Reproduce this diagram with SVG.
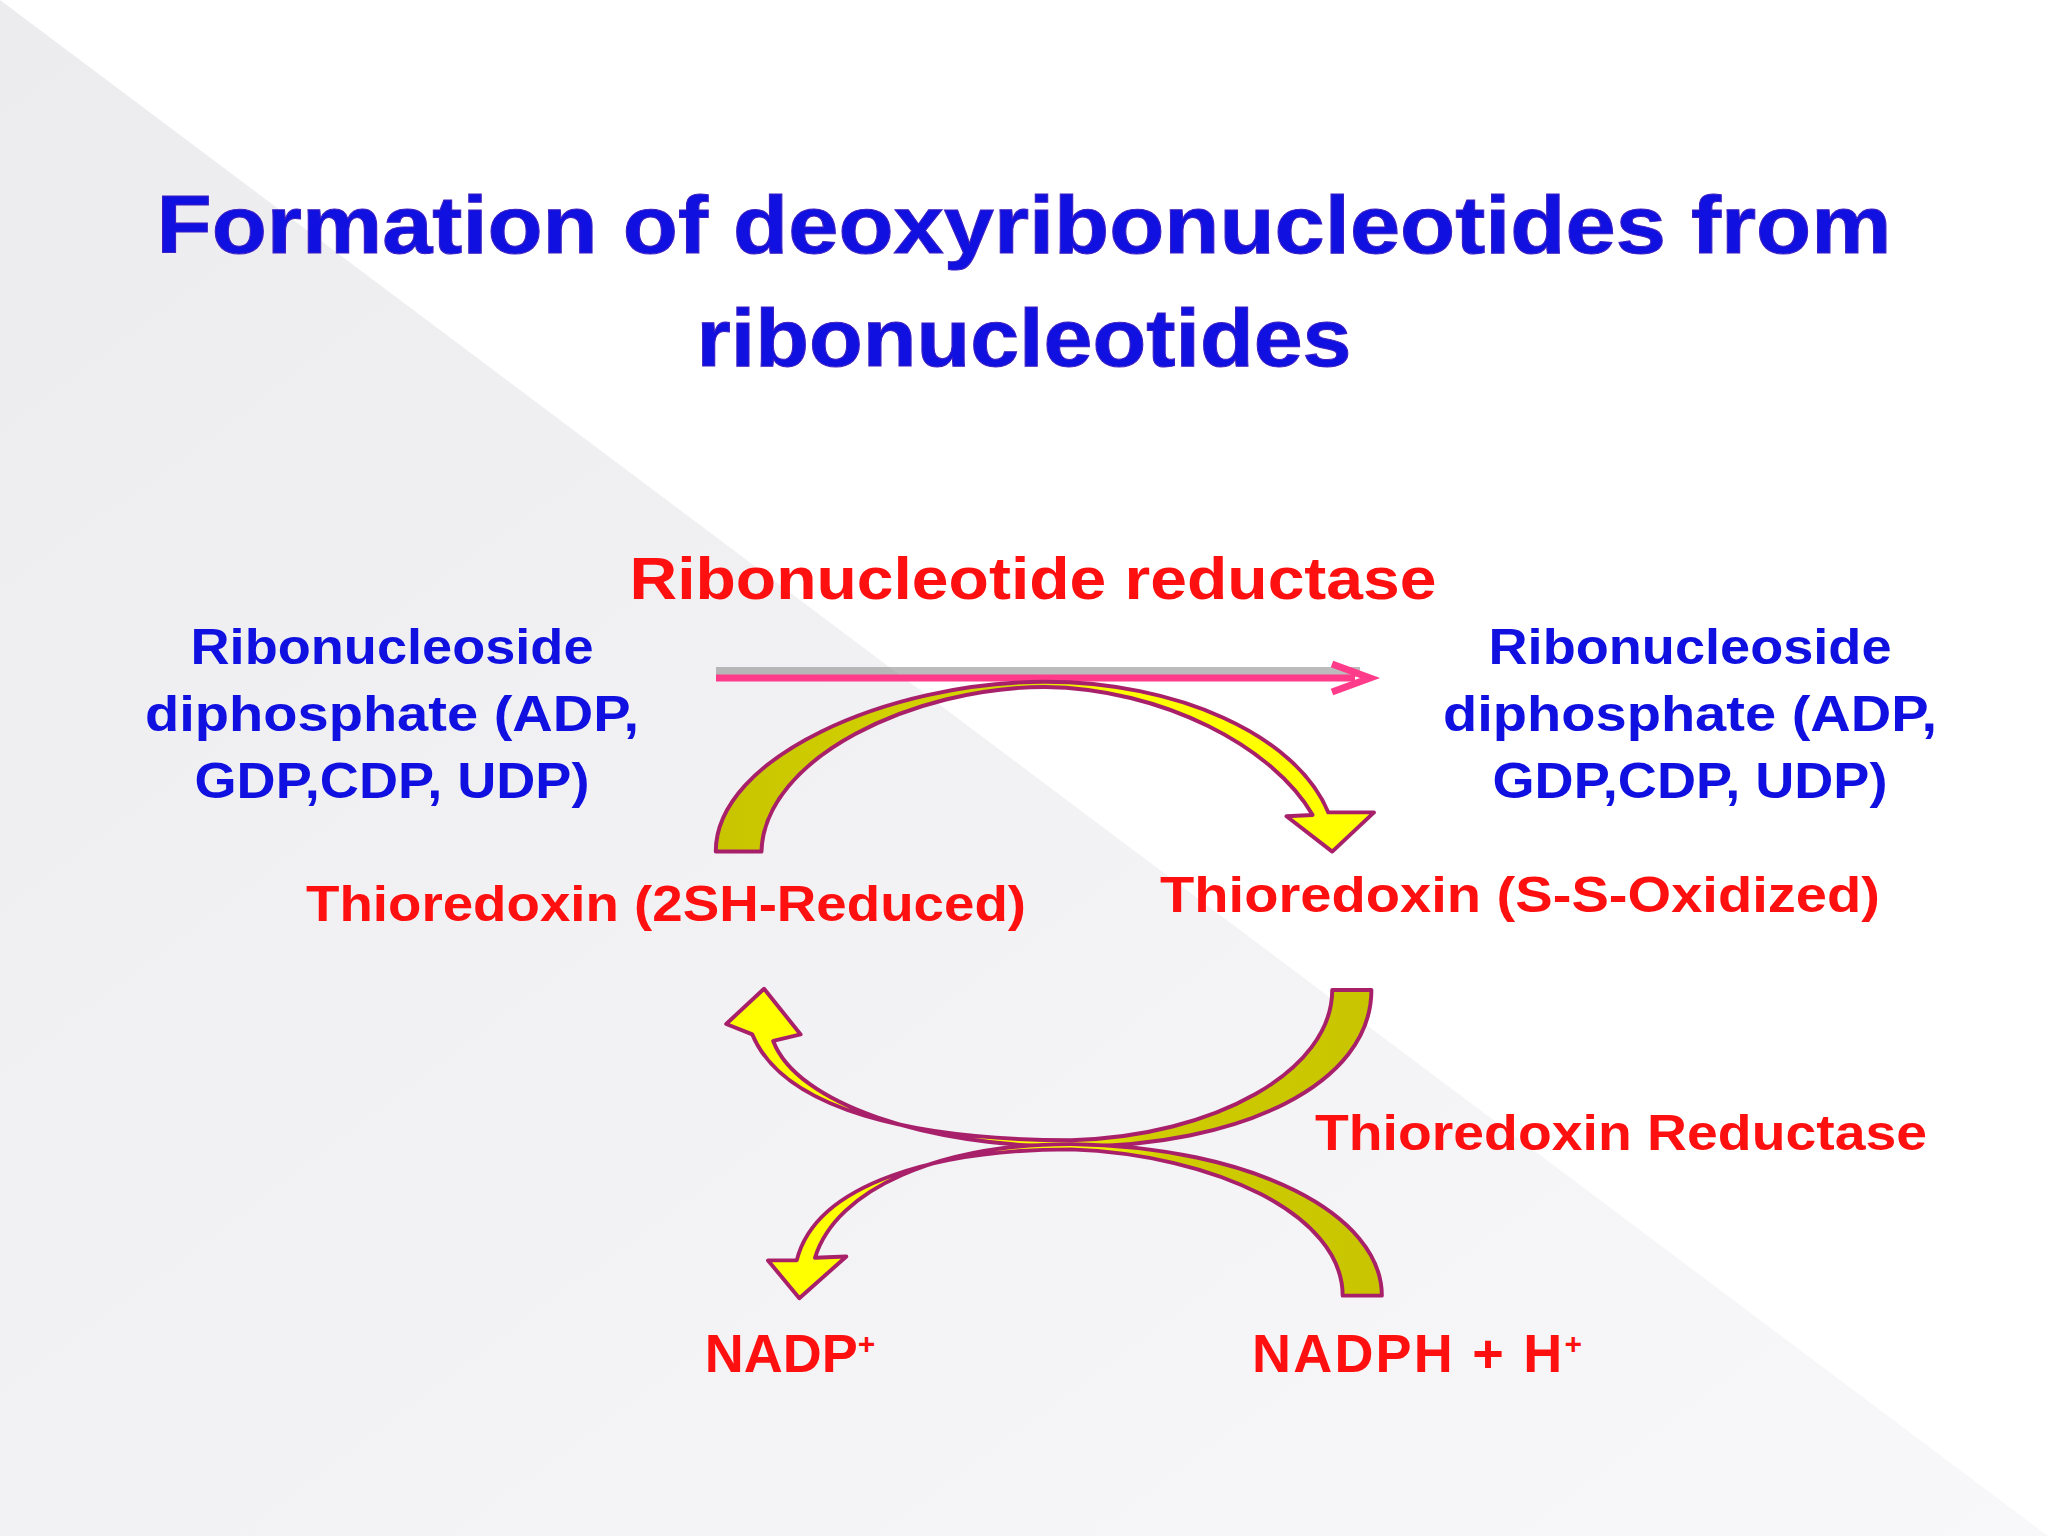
<svg xmlns="http://www.w3.org/2000/svg" width="2048" height="1536" viewBox="0 0 2048 1536">
<defs>
<linearGradient id="bg" x1="0" y1="0" x2="1" y2="1"><stop offset="0" stop-color="#ececef"/><stop offset="1" stop-color="#f8f8fa"/></linearGradient>
<linearGradient id="ay" x1="0" y1="0" x2="1" y2="0"><stop offset="0" stop-color="#c8c400"/><stop offset="0.45" stop-color="#d8d800"/><stop offset="0.6" stop-color="#ffff00"/><stop offset="1" stop-color="#ffff00"/></linearGradient>
<linearGradient id="by" x1="0" y1="0" x2="1" y2="0"><stop offset="0" stop-color="#ffff00"/><stop offset="0.5" stop-color="#ffff00"/><stop offset="0.65" stop-color="#d0cc00"/><stop offset="1" stop-color="#c8c400"/></linearGradient>
<style>
.t{font-family:"Liberation Sans",Arial,sans-serif;font-weight:bold;text-anchor:middle}
.blue{fill:#1010e0}
.red{fill:#ff1010}
.arr{stroke:#a8206a;stroke-width:3;stroke-linejoin:round}
</style>
</defs>
<rect width="2048" height="1536" fill="#ffffff"/>
<polygon points="0,0 2048,1536 0,1536" fill="url(#bg)"/>
<g id="title" class="t blue">
<text x="1024" y="253" font-size="82" textLength="1735" lengthAdjust="spacingAndGlyphs" stroke="#4020c0" stroke-width="1">Formation of deoxyribonucleotides from</text>
<text x="1024" y="366" font-size="82" textLength="655" lengthAdjust="spacingAndGlyphs" stroke="#4020c0" stroke-width="1">ribonucleotides</text>
</g>
<g id="enzyme1" class="t red"><text x="1033" y="599" font-size="60" textLength="807" lengthAdjust="spacingAndGlyphs">Ribonucleotide reductase</text></g>
<g id="left" class="t blue" font-size="50">
<text x="392" y="664" textLength="403" lengthAdjust="spacingAndGlyphs">Ribonucleoside</text>
<text x="392" y="731" textLength="494" lengthAdjust="spacingAndGlyphs">diphosphate (ADP,</text>
<text x="392" y="798" textLength="395" lengthAdjust="spacingAndGlyphs">GDP,CDP, UDP)</text>
</g>
<g id="right" class="t blue" font-size="50">
<text x="1690" y="664" textLength="403" lengthAdjust="spacingAndGlyphs">Ribonucleoside</text>
<text x="1690" y="731" textLength="494" lengthAdjust="spacingAndGlyphs">diphosphate (ADP,</text>
<text x="1690" y="798" textLength="395" lengthAdjust="spacingAndGlyphs">GDP,CDP, UDP)</text>
</g>
<g id="thioRed" class="t red"><text x="666" y="921" font-size="50" textLength="720" lengthAdjust="spacingAndGlyphs">Thioredoxin (2SH-Reduced)</text></g>
<g id="thioOx" class="t red"><text x="1520" y="912" font-size="50" textLength="720" lengthAdjust="spacingAndGlyphs">Thioredoxin (S-S-Oxidized)</text></g>
<g id="thioReductase" class="t red"><text x="1621" y="1150" font-size="50" textLength="612" lengthAdjust="spacingAndGlyphs">Thioredoxin Reductase</text></g>
<g id="nadp" class="t red"><text x="790" y="1372" font-size="54">NADP<tspan font-size="30" dy="-18">+</tspan></text></g>
<g id="nadph" class="t red"><text x="1417" y="1372" font-size="54" textLength="330">NADPH + H<tspan font-size="30" dy="-18">+</tspan></text></g>
<g id="connectors">
<line x1="716" y1="672" x2="1360" y2="672" stroke="#909090" stroke-width="10" opacity="0.6"/>
<line x1="716" y1="678" x2="1355" y2="678" stroke="#ff3b8a" stroke-width="7"/>
<path d="M1332,664 L1370,678 L1332,692" fill="none" stroke="#ff3b8a" stroke-width="7"/>
<g transform="scale(1.3061)">
<path class="arr" fill="url(#ay)" d="M548,652 C548,580 680,522 800,522 C900,522 992,562 1017,622 L1052,622 L1020,652 L985,625 L1005,624 C975,572 890,527 800,526 C700,526 585,580 583,652 Z"/>
<path class="arr" fill="url(#by)" d="M1050,758 C1050,830 950,878 820,878 C710,878 610,845 592,797 L613,792 L585,757 L556,784 L576,792 C600,850 700,873 820,873 C930,870 1020,820 1020,758 Z"/>
<path class="arr" fill="url(#by)" d="M1058,992 C1058,930 960,878 820,876 C720,876 640,910 624,963 L648,962 L612,994 L588,965 L610,965 C625,905 720,880 820,880 C930,884 1028,930 1028,992 Z"/>
</g>
</g>
</svg>
